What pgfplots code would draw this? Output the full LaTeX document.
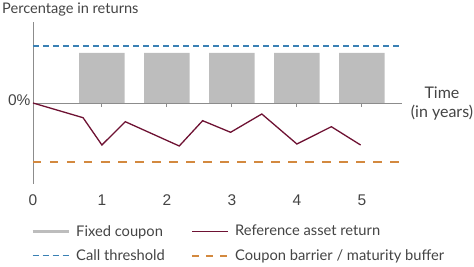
\documentclass[border=0pt]{standalone}
\usepackage{pgfplots}
\pgfplotsset{compat=1.18}
\usepackage{fontspec}
\setmainfont{Lato}
\newfontfamily\numfont{Liberation Sans}
\newcommand{\nf}{\numfont\fontsize{15.5}{17}\selectfont}
\definecolor{cgray}{HTML}{BDBDBD}
\definecolor{cpurple}{HTML}{6E1233}
\definecolor{cblue}{HTML}{3A80B4}
\definecolor{corange}{HTML}{D3893F}
\definecolor{caxis}{HTML}{8C8C8C}
\definecolor{ctext}{HTML}{444444}
\begin{document}
\begin{tikzpicture}
\useasboundingbox (-33pt,-83pt) rectangle (441pt,184pt);
\begin{axis}[
  x=65pt, y=1pt,
  xmin=-0.06, xmax=5.615, ymin=-81, ymax=81,
  axis x line=bottom, axis y line=left,
  x axis line style={draw=none},
  y axis line style={-, draw=caxis, line width=0.9pt},
  xtick={-0.06,1,2,3,4,5},
  xticklabels={{\nf 0},{\nf 1},{\nf 2},{\nf 3},{\nf 4},{\nf 5}},
  ytick={0}, yticklabels={{\nf 0\%}},
  major tick length=0pt,
  xticklabel style={anchor=base, yshift=-22pt, text=ctext},
  yticklabel style={xshift=1pt, yshift=3pt, text=ctext},
  clip=false,
  legend columns=2,
  legend style={at={(rel axis cs:0,0)}, anchor=north west, xshift=-2pt, yshift=-39pt,
    draw=none, fill=none, inner sep=0pt, row sep=8pt,
    font=\fontsize{14.7}{17}\selectfont, text=ctext,
    nodes={inner sep=2pt}},
  legend cell align=left,
  /tikz/every odd column/.append style={column sep=4pt},
  /tikz/every even column/.append style={column sep=24pt},
  legend image code/.code={\draw[#1] (0pt,0pt) -- (36pt,0pt);},
]
% fixed coupon bars
\addplot[ybar, bar width=0.7, fill=cgray, draw=none, forget plot] coordinates {(1,50) (2,50) (3,50) (4,50) (5,50)};
% zero line
\addplot[caxis, line width=0.9pt, forget plot] coordinates {(-0.06,0) (5.615,0)};
% tick marks
\addplot[caxis, line width=0.9pt, ycomb, forget plot] coordinates {(1,-4) (2,-4) (3,-4) (4,-4) (5,-4)};
% call threshold
\addplot[cblue, line width=1.6pt, dash pattern=on 6pt off 4pt, forget plot] coordinates {(-0.06,57) (5.6,57)};
% coupon barrier
\addplot[corange, line width=2.2pt, dash pattern=on 8.5pt off 8.5pt, forget plot] coordinates {(-0.06,-59) (5.6,-59)};
% reference asset return
\addplot[cpurple, line width=1.3pt, forget plot] coordinates {
 (-0.06,0) (0.71,-14.7) (1.0,-42) (1.36,-18.7) (2.19,-43) (2.55,-17.7)
 (2.98,-29.3) (3.46,-11) (4.0,-41) (4.53,-23.7) (4.98,-42)};
\addlegendimage{cgray, line width=3pt}
\addlegendentry{Fixed coupon}
\addlegendimage{cpurple, line width=1.3pt}
\addlegendentry{Reference asset return}
\addlegendimage{cblue, line width=1.6pt, dash pattern=on 6pt off 4pt}
\addlegendentry{Call threshold}
\addlegendimage{corange, line width=2.2pt, dash pattern=on 7pt off 7pt}
\addlegendentry{Coupon barrier / maturity buffer}
\end{axis}
\node[anchor=west, font=\fontsize{14.6}{17}\selectfont, text=ctext, inner sep=0pt] at (-31pt,174pt) {Percentage in returns};
\node[align=center, font=\fontsize{16}{19}\selectfont, text=ctext, inner sep=0pt] at (409pt,80pt) {Time\\(in years)};
\end{tikzpicture}
\end{document}
